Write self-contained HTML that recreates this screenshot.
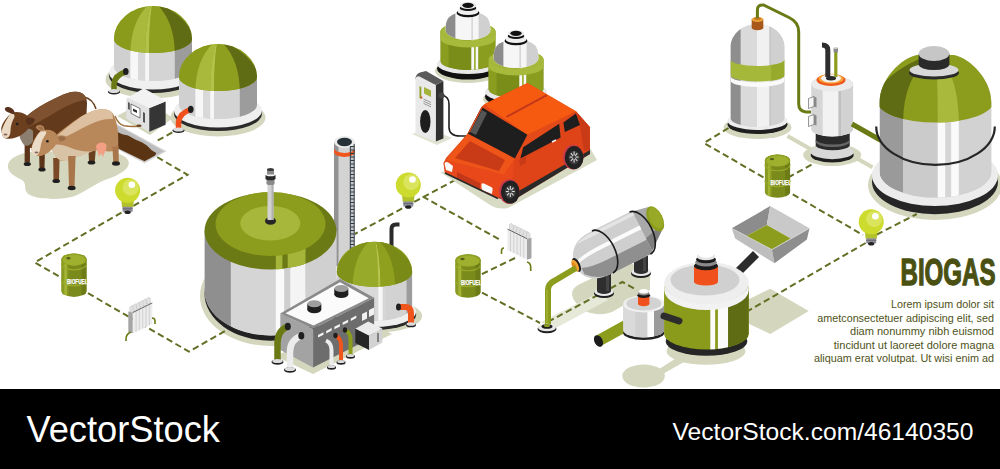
<!DOCTYPE html>
<html><head><meta charset="utf-8"><title>Biogas</title>
<style>
html,body{margin:0;padding:0;background:#ffffff;width:1000px;height:469px;overflow:hidden;}
svg{display:block;position:absolute;left:0;top:0;}
</style></head>
<body>
<svg width="1000" height="469" viewBox="0 0 1000 469">
<defs><clipPath id="c1"><path d="M440.5,31.5 L440.5,61.0 A27.5,9.0 0 0 0 495.5,61.0 L495.5,31.5 A27.5,9.0 0 0 0 440.5,31.5 Z"/></clipPath><clipPath id="c2"><path d="M445.5,30 C445.5,15 453.0,12.5 468.0,12.5 C483.0,12.5 490.5,15 490.5,30 A22.5,10 0 0 1 445.5,30 Z"/></clipPath><clipPath id="c3"><path d="M488.5,59.5 L488.5,89.0 A27.5,9.0 0 0 0 543.5,89.0 L543.5,59.5 A27.5,9.0 0 0 0 488.5,59.5 Z"/></clipPath><clipPath id="c4"><path d="M493.5,58 C493.5,43 501.0,40.5 516.0,40.5 C531.0,40.5 538.5,43 538.5,58 A22.5,10 0 0 1 493.5,58 Z"/></clipPath><clipPath id="c5"><path d="M114.0,39.0 L114.0,67.0 A39.0,14.0 0 0 0 192.0,67.0 L192.0,39.0 A39.0,14.0 0 0 0 114.0,39.0 Z"/></clipPath><clipPath id="c6"><path d="M114.0,39.0 A39.0,33.0 0 0 1 192.0,39.0 A39.0,14.0 0 0 1 114.0,39.0 Z"/></clipPath><clipPath id="c7"><path d="M179.0,77.0 L179.0,105.0 A39.0,14.0 0 0 0 257.0,105.0 L257.0,77.0 A39.0,14.0 0 0 0 179.0,77.0 Z"/></clipPath><clipPath id="c8"><path d="M179.0,77.0 A39.0,33.0 0 0 1 257.0,77.0 A39.0,14.0 0 0 1 179.0,77.0 Z"/></clipPath><clipPath id="c9"><path d="M730.5,118 L730.5,47 A27.0,23 0 0 1 784.5,47 L784.5,118 A27.0,9 0 0 1 730.5,118 Z"/></clipPath><clipPath id="c10"><path d="M811.3,84.0 L811.3,129.0 A20.9,7.5 0 0 0 853.1,129.0 L853.1,84.0 A20.9,7.5 0 0 0 811.3,84.0 Z"/></clipPath><clipPath id="c11"><path d="M879.7,172 L879.7,102.0 C879.7,80 900.5,58 917.5,55 L953.5,55 C970.5,58 991.3,80 991.3,102.0 L991.3,172 A55.8,25.6 0 0 1 879.7,172 Z"/></clipPath><clipPath id="c12"><path d="M877.7,40 L993.3,40 L993.3,102.0 A57.8,20.5 0 0 1 877.7,102.0 Z"/></clipPath><clipPath id="c13"><path d="M61.4,259.7 L61.4,290.7 A12.6,6.2 0 0 0 86.6,290.7 L86.6,259.7 A12.6,6.2 0 0 0 61.4,259.7 Z"/></clipPath><clipPath id="c14"><path d="M455.4,260.5 L455.4,291.5 A12.6,6.2 0 0 0 480.6,291.5 L480.6,260.5 A12.6,6.2 0 0 0 455.4,260.5 Z"/></clipPath><clipPath id="c15"><path d="M764.9,160.6 L764.9,191.6 A12.6,6.2 0 0 0 790.1,191.6 L790.1,160.6 A12.6,6.2 0 0 0 764.9,160.6 Z"/></clipPath><clipPath id="c16"><path d="M204.5,231 L204.5,290.5 A66.0,45 0 0 0 336.5,290.5 L336.5,231 Z"/></clipPath><clipPath id="c17"><path d="M204.5,231 A66.0,38.5 0 0 1 336.5,231 A66.0,38.5 0 0 1 204.5,231 Z"/></clipPath><clipPath id="c18"><path d="M336.8,272.0 L336.8,306.0 A37.7,15.0 0 0 0 412.2,306.0 L412.2,272.0 A37.7,15.0 0 0 0 336.8,272.0 Z"/></clipPath><clipPath id="c19"><path d="M336.8,272.0 A37.7,30.3 0 0 1 412.2,272.0 A37.7,15.0 0 0 1 336.8,272.0 Z"/></clipPath><clipPath id="c20"><path d="M623.2,304.0 L623.2,330.0 A20.5,7.5 0 0 0 664.2,330.0 L664.2,304.0 A20.5,7.5 0 0 0 623.2,304.0 Z"/></clipPath><clipPath id="c21"><path d="M664.2,288.0 L664.2,333.5 A42.3,16.0 0 0 0 748.8,333.5 L748.8,288.0 A42.3,16.0 0 0 0 664.2,288.0 Z"/></clipPath></defs>
<rect x="0" y="0" width="1000" height="469" fill="#ffffff"/>
<polygon points="748.2,299.4 770.3,288.8 808.7,310.9 770.3,333.9 748.2,323.4" fill="#d4d7bd" />
<ellipse cx="468.0" cy="71.0" rx="33.0" ry="12.0" fill="#d4d7bd" />
<ellipse cx="516.0" cy="99.0" rx="33.0" ry="12.0" fill="#d4d7bd" />
<ellipse cx="153.0" cy="79.5" rx="47.5" ry="19.0" fill="#d4d7bd" />
<ellipse cx="218.0" cy="117.5" rx="47.5" ry="19.0" fill="#d4d7bd" />
<polygon points="117.0,116.0 146.0,100.0 173.0,118.0 150.0,135.0" fill="#d4d7bd" />
<path d="M8,165 C10,155 30,150 45,152 C60,150 75,155 90,152 C105,149 122,152 128,160 C132,168 120,175 105,180 C95,184 88,190 75,196 C62,200 40,200 30,195 C22,191 28,184 22,180 C14,176 7,172 8,165 Z" fill="#d4d7bd" />
<ellipse cx="757.5" cy="127.5" rx="34.0" ry="11.5" fill="#d4d7bd" />
<ellipse cx="832.2" cy="155.0" rx="29.0" ry="11.0" fill="#d4d7bd" />
<ellipse cx="935.0" cy="185.0" rx="67.0" ry="35.0" fill="#d4d7bd" />
<ellipse cx="270.5" cy="296.0" rx="70.5" ry="50.0" fill="#d4d7bd" />
<ellipse cx="376.5" cy="316.0" rx="45.7" ry="16.5" fill="#d4d7bd" />
<polygon points="275.0,356.0 313.0,374.0 392.0,334.0 360.0,318.0" fill="#d4d7bd" />
<path d="M574,300 Q568,290 580,284 L626,262 L650,270 L650,290 L612,312 Q595,318 580,308 Z" fill="#d4d7bd" />
<ellipse cx="706.0" cy="351.0" rx="39.5" ry="13.8" fill="#d4d7bd" />
<path d="M656,371 L678,357 L684,362 L661,375 Z" fill="#d4d7bd" />
<ellipse cx="643.6" cy="376.0" rx="21.3" ry="11.5" fill="#d4d7bd" />
<path d="M541,322 L600,292 L608,300 L552,330 Z" fill="#e6e8d8" />
<line x1="787.5" y1="136" x2="811.3" y2="149.4" stroke="#d4d7bd" stroke-width="4"/>
<line x1="851.6" y1="155.4" x2="872.5" y2="167.3" stroke="#d4d7bd" stroke-width="4"/>
<polyline points="172.3,132.4 154.8,142.0" fill="none" stroke="#617024" stroke-width="2.0" stroke-dasharray="6.5 3.6" />
<polyline points="157.2,157.2 187.5,174.7 34.7,262.4 189.0,351.6 226.0,330.5" fill="none" stroke="#617024" stroke-width="2.0" stroke-dasharray="6.5 3.6" />
<polyline points="352.0,235.5 455.0,180.0" fill="none" stroke="#617024" stroke-width="2.0" stroke-dasharray="6.5 3.6" />
<polyline points="422.6,196.5 501.5,240.7" fill="none" stroke="#617024" stroke-width="2.0" stroke-dasharray="6.5 3.6" />
<polyline points="515.0,258.0 480.0,275.0" fill="none" stroke="#617024" stroke-width="2.0" stroke-dasharray="6.5 3.6" />
<polyline points="482.0,292.6 540.0,323.0" fill="none" stroke="#617024" stroke-width="2.0" stroke-dasharray="6.5 3.6" />
<polyline points="548.0,321.8 622.4,282.0 637.0,290.0" fill="none" stroke="#617024" stroke-width="2.0" stroke-dasharray="6.5 3.6" />
<polyline points="728.5,128.0 704.0,143.0 863.0,235.0" fill="none" stroke="#617024" stroke-width="2.0" stroke-dasharray="6.5 3.6" />
<polyline points="811.5,164.7 789.0,177.0" fill="none" stroke="#617024" stroke-width="2.0" stroke-dasharray="6.5 3.6" />
<polyline points="876.7,234.6 916.8,214.0" fill="none" stroke="#617024" stroke-width="2.0" stroke-dasharray="6.5 3.6" />
<polyline points="865.6,243.0 748.2,310.9" fill="none" stroke="#617024" stroke-width="2.0" stroke-dasharray="6.5 3.6" />
<ellipse cx="468.0" cy="68.5" rx="31.0" ry="11.0" fill="#111" />
<ellipse cx="468.0" cy="64.0" rx="31.0" ry="10.0" fill="#e8e8e8" />
<path d="M440.5,31.5 L440.5,61.0 A27.5,9.0 0 0 0 495.5,61.0 L495.5,31.5 A27.5,9.0 0 0 0 440.5,31.5 Z" fill="#7d9019" />
<g clip-path="url(#c1)">
<rect x="440.5" y="20.0" width="8.2" height="55.0" fill="#8b9d1e"/>
<rect x="448.8" y="20.0" width="22.6" height="55.0" fill="#7a8d18"/>
<rect x="471.3" y="20.0" width="2.8" height="55.0" fill="#f8f8f8"/>
<rect x="474.1" y="20.0" width="1.6" height="55.0" fill="#a2b536"/>
<rect x="475.7" y="20.0" width="2.8" height="55.0" fill="#f8f8f8"/>
<rect x="478.4" y="20.0" width="17.1" height="55.0" fill="#8b9d1e"/>
</g>
<path d="M440.5,31.5 A27.5,9 0 0 0 495.5,31.5 L495.5,38.5 A27.5,9 0 0 1 440.5,38.5 Z" fill="#a7ba3c"/>
<ellipse cx="468.0" cy="31.5" rx="27.5" ry="9.0" fill="#a7ba3c" />
<path d="M445.5,30 C445.5,15 453.0,12.5 468.0,12.5 C483.0,12.5 490.5,15 490.5,30 A22.5,10 0 0 1 445.5,30 Z" fill="#f4f4f4" />
<g clip-path="url(#c2)">
<rect x="445.5" y="0.0" width="10.1" height="45.0" fill="#8c8c8c"/>
<rect x="455.6" y="0.0" width="15.8" height="45.0" fill="#f6f6f6"/>
<rect x="471.4" y="0.0" width="1.6" height="45.0" fill="#d6d6d6"/>
<rect x="472.9" y="0.0" width="5.6" height="45.0" fill="#f6f6f6"/>
<rect x="478.6" y="0.0" width="11.9" height="45.0" fill="#d0d0d0"/>
</g>
<ellipse cx="468.0" cy="13.0" rx="11.5" ry="4.2" fill="#111" />
<ellipse cx="468.0" cy="11.2" rx="10.5" ry="3.8" fill="#f0f0f0" />
<rect x="460.0" y="4" width="16" height="7" fill="#e6e6e6"/>
<ellipse cx="468.0" cy="8.0" rx="8.3" ry="3.0" fill="#111" />
<ellipse cx="468.0" cy="5.5" rx="8.1" ry="3.6" fill="#ececec" />
<ellipse cx="468.0" cy="5.3" rx="5.6" ry="2.6" fill="#111" />
<ellipse cx="516.0" cy="96.5" rx="31.0" ry="11.0" fill="#111" />
<ellipse cx="516.0" cy="92.0" rx="31.0" ry="10.0" fill="#e8e8e8" />
<path d="M488.5,59.5 L488.5,89.0 A27.5,9.0 0 0 0 543.5,89.0 L543.5,59.5 A27.5,9.0 0 0 0 488.5,59.5 Z" fill="#7d9019" />
<g clip-path="url(#c3)">
<rect x="488.5" y="48.0" width="8.2" height="55.0" fill="#8b9d1e"/>
<rect x="496.8" y="48.0" width="22.5" height="55.0" fill="#7a8d18"/>
<rect x="519.3" y="48.0" width="2.8" height="55.0" fill="#f8f8f8"/>
<rect x="522.0" y="48.0" width="1.7" height="55.0" fill="#a2b536"/>
<rect x="523.7" y="48.0" width="2.8" height="55.0" fill="#f8f8f8"/>
<rect x="526.5" y="48.0" width="17.0" height="55.0" fill="#8b9d1e"/>
</g>
<path d="M488.5,59.5 A27.5,9 0 0 0 543.5,59.5 L543.5,66.5 A27.5,9 0 0 1 488.5,66.5 Z" fill="#a7ba3c"/>
<ellipse cx="516.0" cy="59.5" rx="27.5" ry="9.0" fill="#a7ba3c" />
<path d="M493.5,58 C493.5,43 501.0,40.5 516.0,40.5 C531.0,40.5 538.5,43 538.5,58 A22.5,10 0 0 1 493.5,58 Z" fill="#f4f4f4" />
<g clip-path="url(#c4)">
<rect x="493.5" y="28.0" width="10.1" height="45.0" fill="#8c8c8c"/>
<rect x="503.6" y="28.0" width="15.8" height="45.0" fill="#f6f6f6"/>
<rect x="519.4" y="28.0" width="1.6" height="45.0" fill="#d6d6d6"/>
<rect x="521.0" y="28.0" width="5.6" height="45.0" fill="#f6f6f6"/>
<rect x="526.6" y="28.0" width="11.9" height="45.0" fill="#d0d0d0"/>
</g>
<ellipse cx="516.0" cy="41.0" rx="11.5" ry="4.2" fill="#111" />
<ellipse cx="516.0" cy="39.2" rx="10.5" ry="3.8" fill="#f0f0f0" />
<rect x="508.0" y="32" width="16" height="7" fill="#e6e6e6"/>
<ellipse cx="516.0" cy="36.0" rx="8.3" ry="3.0" fill="#111" />
<ellipse cx="516.0" cy="33.5" rx="8.1" ry="3.6" fill="#ececec" />
<ellipse cx="516.0" cy="33.3" rx="5.6" ry="2.6" fill="#111" />
<ellipse cx="153.0" cy="76.0" rx="44.0" ry="17.0" fill="#2a2a2a" />
<ellipse cx="153.0" cy="72.5" rx="44.0" ry="17.0" fill="#efefef" />
<path d="M114.0,39.0 L114.0,67.0 A39.0,14.0 0 0 0 192.0,67.0 L192.0,39.0 A39.0,14.0 0 0 0 114.0,39.0 Z" fill="#d6d6d6" />
<g clip-path="url(#c5)">
<rect x="114.0" y="37.0" width="16.4" height="46.0" fill="#d0d0d0"/>
<rect x="130.4" y="37.0" width="7.8" height="46.0" fill="#f7f7f7"/>
<rect x="138.2" y="37.0" width="7.0" height="46.0" fill="#d9d9d9"/>
<rect x="145.2" y="37.0" width="3.9" height="46.0" fill="#f7f7f7"/>
<rect x="149.1" y="37.0" width="25.7" height="46.0" fill="#d4d4d4"/>
<rect x="174.8" y="37.0" width="17.2" height="46.0" fill="#9c9c9c"/>
</g>
<path d="M114.0,39.0 A39.0,33.0 0 0 1 192.0,39.0 A39.0,14.0 0 0 1 114.0,39.0 Z" fill="#8c9c1c" />
<g clip-path="url(#c6)">
<path d="M148.1,3 Q111.2,20.9 112.0,45.0 L130.4,56.4 Q129.9,20.9 150.3,3 Z" fill="#8a9b1b"/>
<path d="M150.3,3 Q129.9,20.9 130.4,56.4 L145.2,58.7 Q145.0,20.9 152.1,3 Z" fill="#a8b93c"/>
<path d="M152.1,3 Q145.0,20.9 145.2,58.7 L149.1,58.9 Q149.0,20.9 152.5,3 Z" fill="#b3c24a"/>
<path d="M152.5,3 Q149.0,20.9 149.1,58.9 L174.8,56.6 Q175.3,20.9 155.6,3 Z" fill="#8e9f1f"/>
<path d="M155.6,3 Q175.3,20.9 174.8,56.6 L193.9,45.0 Q194.8,20.9 157.9,3 Z" fill="#5f6c13"/>
</g>
<path d="M125.5,72 Q115,75 114,84 L114,90" fill="none" stroke="#6b7a14" stroke-width="5.5"/>
<ellipse cx="125.8" cy="71.5" rx="2.8" ry="3.6" fill="#1f1f1f" />
<ellipse cx="114.0" cy="92.0" rx="6.0" ry="2.6" fill="#222" />
<ellipse cx="114.0" cy="91.0" rx="5.2" ry="2.0" fill="#ddd" />
<ellipse cx="218.0" cy="114.0" rx="44.0" ry="17.0" fill="#2a2a2a" />
<ellipse cx="218.0" cy="110.5" rx="44.0" ry="17.0" fill="#efefef" />
<path d="M179.0,77.0 L179.0,105.0 A39.0,14.0 0 0 0 257.0,105.0 L257.0,77.0 A39.0,14.0 0 0 0 179.0,77.0 Z" fill="#d6d6d6" />
<g clip-path="url(#c7)">
<rect x="179.0" y="75.0" width="16.4" height="46.0" fill="#d0d0d0"/>
<rect x="195.4" y="75.0" width="7.8" height="46.0" fill="#f7f7f7"/>
<rect x="203.2" y="75.0" width="7.0" height="46.0" fill="#d9d9d9"/>
<rect x="210.2" y="75.0" width="3.9" height="46.0" fill="#f7f7f7"/>
<rect x="214.1" y="75.0" width="25.7" height="46.0" fill="#d4d4d4"/>
<rect x="239.8" y="75.0" width="17.2" height="46.0" fill="#9c9c9c"/>
</g>
<path d="M179.0,77.0 A39.0,33.0 0 0 1 257.0,77.0 A39.0,14.0 0 0 1 179.0,77.0 Z" fill="#8c9c1c" />
<g clip-path="url(#c8)">
<path d="M213.1,41 Q176.2,58.9 177.1,83.0 L195.4,94.4 Q194.9,58.9 215.3,41 Z" fill="#8a9b1b"/>
<path d="M215.3,41 Q194.9,58.9 195.4,94.4 L210.2,96.7 Q210.0,58.9 217.1,41 Z" fill="#a8b93c"/>
<path d="M217.1,41 Q210.0,58.9 210.2,96.7 L214.1,96.9 Q214.0,58.9 217.5,41 Z" fill="#b3c24a"/>
<path d="M217.5,41 Q214.0,58.9 214.1,96.9 L239.8,94.6 Q240.3,58.9 220.6,41 Z" fill="#8e9f1f"/>
<path d="M220.6,41 Q240.3,58.9 239.8,94.6 L258.9,83.0 Q259.8,58.9 222.9,41 Z" fill="#5f6c13"/>
</g>
<path d="M190.5,109.5 Q180,113 178.5,122 L178.5,128" fill="none" stroke="#f0501c" stroke-width="5.5"/>
<ellipse cx="190.8" cy="109.3" rx="2.8" ry="3.6" fill="#1f1f1f" />
<ellipse cx="178.5" cy="130.5" rx="6.0" ry="2.6" fill="#222" />
<ellipse cx="178.5" cy="129.5" rx="5.2" ry="2.0" fill="#ddd" />
<path d="M126.3,100 Q126.3,98.2 128,97.6 L149.3,108 L149.3,131.8 L126.3,118.4 Z" fill="#e2e2e2" />
<polygon points="149.3,108.0 165.6,101.5 165.6,124.8 149.3,131.8" fill="#353535" />
<path d="M128,97.6 L142,89.2 Q143.6,88.3 145.5,89.2 L163.8,99.6 Q165.6,101 163.6,102.2 L151,107.6 Q149.3,108.3 147.6,107.4 Z" fill="#f2f2f2" />
<polygon points="131.0,104.0 140.0,108.6 140.0,118.0 131.0,113.4" fill="#ffffff" stroke="#444" stroke-width="0.7"/>
<polygon points="133.0,108.5 137.0,110.5 137.0,113.0 133.0,111.0" fill="#2a2a2a" />
<polygon points="128.0,102.0 129.8,103.0 129.8,110.0 128.0,109.0" fill="#555" />
<polygon points="143.0,112.0 145.0,113.0 145.0,123.0 143.0,122.0" fill="#555" />
<polygon points="114.0,122.5 166.5,151.3 144.5,163.3 113.0,147.0" fill="#d4d4d4" />
<polygon points="115.5,124.5 163.8,151.2 144.5,161.6 114.0,146.3" fill="#bcbcbc" />
<polygon points="116.4,131.4 122.3,134.3 128.1,135.5 135.2,139.6 142.2,142.5 146.9,145.5 151.6,150.2 156.3,153.1 155.1,155.4 144.5,161.3 114.0,146.5" fill="#5a3413" />
<path d="M84,97 Q93,99 96,109" fill="none" stroke="#6b4424" stroke-width="1.6" stroke-linecap="butt" stroke-linejoin="round"/>
<path d="M39,146 L45,146 L44.5,168 L39.5,168 Z" fill="#5a3318" />
<path d="M75,130 L81,130 L81,153 L75,153 Z" fill="#4e2c14" />
<ellipse cx="42.0" cy="169.5" rx="3.6" ry="2.1" fill="#1e1e1e" />
<ellipse cx="78.0" cy="154.0" rx="3.6" ry="2.1" fill="#1e1e1e" />
<path d="M25,118 C32,110 45,103 58,97 C66,93 72,91 78,92 C84,93 87,97 87,104 L86,125 C84,135 75,140 62,143 C50,146 38,148 30,148 C24,140 22,128 25,118 Z" fill="#633a1b" />
<path d="M28,116 C36,108 47,102 58,97 C66,93 72,91 78,92 C84,93 86,96 86,100 C76,101 66,106 56,112 C46,118 36,124 30,126 Z" fill="#7e5230" />
<path d="M24.6,140 L30,140 L29.9,162.5 L24.6,162.5 Z" fill="#5c3419" />
<ellipse cx="27.3" cy="164.0" rx="3.6" ry="2.1" fill="#1e1e1e" />
<path d="M19,132 C24,128 30,127 33,131 L33,141 C31,145 27,147 24,145 C21,141 19,137 19,132 Z" fill="#8d7f70" />
<path d="M1.5,131 C0.5,127 3,122 7,117.5 C9.5,114 12.5,112 16.5,112 C22.5,112 28.5,115 30.5,120 C31.5,125 27.5,131 22,134.5 C17.5,137.5 11.5,139.5 6,138.5 C3,138 1.8,134.5 1.5,131 Z" fill="#6c3f1f" />
<path d="M11.5,113.5 C14.5,113.5 15.5,116 13.5,119 C11.5,123 10.5,127 10.5,131 C10.5,135.5 8.5,138.5 5,138 C2.5,137 1.2,134 1.8,130.5 C2.8,126 5.5,121.5 8,117.5 C9,115.5 10,113.5 11.5,113.5 Z" fill="#ead9c3" />
<path d="M5,110 C4,107.5 7,106.5 10,107.5 C13,108.5 15,111 14.5,114 C11,113.8 7,112.5 5,110 Z" fill="#57311a" />
<path d="M26,119 C28,116.8 33,117 35,119.5 C34.2,123 31.2,125.6 28,125 C26,123 25.4,121 26,119 Z" fill="#57311a" />
<ellipse cx="17.2" cy="124.0" rx="1.3" ry="1.2" fill="#1e1e1e" />
<ellipse cx="5.5" cy="134.5" rx="2.0" ry="1.1" fill="#8a6a5a" />
<path d="M115,116 Q118,124 124,125.8 Q131,127 137.5,126.3" fill="none" stroke="#a0703f" stroke-width="1.5" stroke-linecap="butt" stroke-linejoin="round"/>
<ellipse cx="139.0" cy="125.8" rx="2.6" ry="1.2" fill="#6b4424" />
<path d="M53.2,158 L59.6,158 L59,180 L53.5,180 Z" fill="#7a4a26" />
<path d="M88.4,148 L95.9,148 L94.8,161.5 L89,161.5 Z" fill="#6a3f1f" />
<ellipse cx="56.2" cy="181.0" rx="3.8" ry="2.1" fill="#1e1e1e" />
<ellipse cx="91.5" cy="162.5" rx="3.8" ry="2.1" fill="#1e1e1e" />
<path d="M52,140 C56,134 62,130 70,124 C78,118 88,112 99,109.6 C105,108.5 110,110 112.5,113 C116,118 118.5,128 118.3,142 L118,150 C114,152 108,152 102,150 C96,150 92,151.5 86,153 C78,156 70,159 62,161 C56,160 52,152 52,140 Z" fill="#b8875a" />
<path d="M56,137 C62,131 70,125 78,119 C86,113 94,110 99,109.6 C105,108.5 110,110 112.5,113 L113,119 C106,118.5 98,120.5 92,123.5 C82,128 72,134 62.8,138 Z" fill="#dcc09f" />
<path d="M50,146 C56,143 64,145 71,148 C78,151 86,152 92.7,151.2 C86,154 76,157.5 68,160.5 C62,162 55,160 50,146 Z" fill="#d9c3a6" />
<path d="M96,146 C98,142 104,141 106.5,145 C107,149 105,153.5 103,154.5 L99,154.5 C97.5,152 96,149 96,146 Z" fill="#f29f84" />
<path d="M99,153 L99,156.5 M103,153 L103,156.5" fill="none" stroke="#f29f84" stroke-width="1.2"/>
<path d="M68.1,156 L75.6,156 L74.5,186.5 L69,186.5 Z" fill="#a8764a" />
<path d="M112.5,147 L118.6,146 L118.8,162 L113.2,162 Z" fill="#a8764a" />
<ellipse cx="71.6" cy="188.0" rx="4.0" ry="2.2" fill="#1e1e1e" />
<ellipse cx="116.0" cy="163.5" rx="4.0" ry="2.2" fill="#1e1e1e" />
<path d="M31.5,149.5 C31.2,145 34,139 37.5,134.5 C40,131 44,129.5 48,129.7 C53,130 57,133 57.5,137 C58,142 55.5,146 53,148.3 C49.5,152 45,155.5 40,156 C35.5,156.2 32,153.5 31.5,149.5 Z" fill="#b8875a" />
<path d="M43,130.5 C46.5,130.5 47,133 45,135.5 C42.5,139 41,143 40.5,147 C40,151 39,155 36,155.5 C33,155.5 31.5,152.5 31.6,149.5 C32,145 34.5,140 37.5,135 C39,132.5 41,130.5 43,130.5 Z" fill="#ebdcc8" />
<path d="M36,128 C35.5,125.5 39,124.5 42,125.5 C44.5,126.5 45,129.5 44.2,131.6 C41,131.2 37.5,130 36,128 Z" fill="#b8875a" />
<path d="M38,127.8 C38,126.5 40,126.3 42,127 C43,127.8 43,129.3 42.6,130.3 C40.5,129.8 38.8,129 38,127.8 Z" fill="#9a6e48" />
<path d="M57,136 C60,134.5 65,135 67.2,137.5 C66.5,141 63.5,142.8 60,142.5 C58,141 56.5,138.5 57,136 Z" fill="#b8875a" />
<path d="M58.5,136.8 C61,135.8 64.5,136.3 66,138 C65,140.5 62.5,141.5 60,141.2 C58.8,140 58.2,138.2 58.5,136.8 Z" fill="#9a6e48" />
<ellipse cx="47.4" cy="141.2" rx="1.3" ry="1.2" fill="#1e1e1e" />
<ellipse cx="36.5" cy="152.5" rx="2.0" ry="1.1" fill="#8a6a5a" />
<polygon points="412.0,134.0 437.0,145.0 452.0,138.0 428.0,128.0" fill="#e1e3d2" />
<polygon points="435.7,85.0 443.4,81.0 443.4,138.6 435.7,141.5" fill="#303030" />
<path d="M415.5,79 Q415.5,74 420,72.5 L426,71 L443.4,81 L435.7,85 Z" fill="#5a5a5a" />
<path d="M415.5,79 Q416,75.5 419.5,76.5 L435.7,85 L435.7,141.5 L415.5,133.8 Z" fill="#e9e9e9" />
<polygon points="424.0,87.0 431.0,90.5 431.0,97.0 424.0,93.5" fill="#a4b43a" />
<polygon points="419.5,86.0 421.3,87.0 421.3,99.0 419.5,98.0" fill="#8fa024" />
<ellipse cx="421.5" cy="97.5" rx="0.9" ry="0.9" fill="#e04020" />
<line x1="423.5" y1="99.0" x2="431" y2="102.5" stroke="#777" stroke-width="0.7"/>
<line x1="423.5" y1="101.2" x2="431" y2="104.7" stroke="#777" stroke-width="0.7"/>
<line x1="423.5" y1="103.4" x2="431" y2="106.9" stroke="#777" stroke-width="0.7"/>
<ellipse cx="425.3" cy="121.5" rx="5.2" ry="11.5" fill="#1e1e1e" />
<path d="M441,95 Q449,96 449,104 L449,127 Q449,136 460,136 L468,136" fill="none" stroke="#1e1e1e" stroke-width="1.6"/>
<ellipse cx="441.5" cy="95.5" rx="3.0" ry="3.0" fill="#444" />
<path d="M440,172 L490,205 Q498,210 508,208 L597,160 L590,148 L480,170 Z" fill="#d8dbc3" />
<polygon points="443.5,163.0 446.0,158.0 467.7,133.5 481.6,107.0 484.4,104.3 527.4,83.0 575.9,111.3 589.7,127.0 590.0,154.0 512.0,201.0 498.0,198.0 445.0,173.0" fill="#e24a1a" />
<polygon points="514.9,158.4 575.9,111.3 589.7,127.0 590.0,150.0 510.0,196.0 498.0,194.0" fill="#df4419" />
<polygon points="575.9,111.3 589.7,127.0 590.0,150.0 584.0,151.0 580.0,125.0" fill="#c93a17" />
<polygon points="498.0,194.0 510.0,196.0 590.0,150.0 590.0,154.0 512.0,201.0 498.0,198.0" fill="#2a2a2a" />
<polygon points="443.5,163.0 451.0,158.0 503.8,173.7 514.9,158.4 510.0,196.0 498.0,198.0 445.0,173.0" fill="#e8481a" />
<polygon points="446.0,160.0 467.7,133.5 514.9,158.4 503.8,174.5" fill="#ef5419" />
<polygon points="455.0,158.0 470.0,141.0 505.0,160.0 499.0,171.0" fill="#c93a17" />
<polygon points="457.0,172.0 480.0,183.0 480.0,190.0 457.0,179.0" fill="#c4381a" />
<path d="M444.5,163.5 Q446,161 449,163 L453,166 L452,172 L446,170 Z" fill="#fafafa" />
<path d="M481.5,184 Q482,183 484,183.5 L492,187.5 Q493,188.5 492.5,190 L492,194 L483,190.5 Q481,189.5 481.5,187 Z" fill="#fafafa" />
<path d="M445,173 L498,198.5" stroke="#2a2a2a" stroke-width="1.6"/>
<polygon points="484.4,104.3 527.4,83.0 575.9,111.3 527.4,134.8" fill="#f65a10" />
<line x1="506.6" y1="116.8" x2="546.8" y2="95.2" stroke="#c3381a" stroke-width="2"/>
<polygon points="467.7,133.5 481.6,107.0 527.4,134.8 514.9,158.4" fill="#1e1e1e" />
<polygon points="470.0,132.0 482.0,110.0 487.0,113.0 476.0,135.0" fill="#555555" />
<polygon points="467.7,133.5 481.6,107.0 484.4,104.3 470.0,132.0" fill="#e24a1a" />
<polygon points="520.4,158.4 523.2,147.3 559.2,123.8 560.6,137.6" fill="#1e1e1e" />
<polygon points="564.8,132.0 563.4,122.4 575.9,113.5 580.0,125.1" fill="#1e1e1e" />
<line x1="552" y1="142" x2="556" y2="140" stroke="#f3f3f3" stroke-width="1.5"/>
<polygon points="519.0,160.0 526.0,156.0 526.0,163.0 520.0,166.0" fill="#c93a17" />
<ellipse cx="509.3" cy="191.5" rx="10.3" ry="12.3" fill="#c93a4a" />
<ellipse cx="510.3" cy="192.0" rx="9.4" ry="11.6" fill="#222222" />
<ellipse cx="510.3" cy="192.0" rx="5.6" ry="6.8" fill="#3a3a3a" />
<line x1="511.8" y1="191.5" x2="514.8" y2="191.5" stroke="#dcdcdc" stroke-width="1.1"/>
<line x1="511.4" y1="192.8" x2="513.5" y2="195.4" stroke="#dcdcdc" stroke-width="1.1"/>
<line x1="510.3" y1="193.3" x2="510.3" y2="197.0" stroke="#dcdcdc" stroke-width="1.1"/>
<line x1="509.2" y1="192.8" x2="507.1" y2="195.4" stroke="#dcdcdc" stroke-width="1.1"/>
<line x1="508.8" y1="191.5" x2="505.8" y2="191.5" stroke="#dcdcdc" stroke-width="1.1"/>
<line x1="509.2" y1="190.2" x2="507.1" y2="187.6" stroke="#dcdcdc" stroke-width="1.1"/>
<line x1="510.3" y1="189.7" x2="510.3" y2="186.0" stroke="#dcdcdc" stroke-width="1.1"/>
<line x1="511.4" y1="190.2" x2="513.5" y2="187.6" stroke="#dcdcdc" stroke-width="1.1"/>
<ellipse cx="573.1" cy="157.1" rx="10.3" ry="12.3" fill="#c93a4a" />
<ellipse cx="574.1" cy="157.6" rx="9.4" ry="11.6" fill="#222222" />
<ellipse cx="574.1" cy="157.6" rx="5.6" ry="6.8" fill="#3a3a3a" />
<line x1="575.6" y1="157.1" x2="578.6" y2="157.1" stroke="#dcdcdc" stroke-width="1.1"/>
<line x1="575.2" y1="158.4" x2="577.3" y2="161.0" stroke="#dcdcdc" stroke-width="1.1"/>
<line x1="574.1" y1="158.9" x2="574.1" y2="162.6" stroke="#dcdcdc" stroke-width="1.1"/>
<line x1="573.0" y1="158.4" x2="570.9" y2="161.0" stroke="#dcdcdc" stroke-width="1.1"/>
<line x1="572.6" y1="157.1" x2="569.6" y2="157.1" stroke="#dcdcdc" stroke-width="1.1"/>
<line x1="573.0" y1="155.8" x2="570.9" y2="153.2" stroke="#dcdcdc" stroke-width="1.1"/>
<line x1="574.1" y1="155.3" x2="574.1" y2="151.6" stroke="#dcdcdc" stroke-width="1.1"/>
<line x1="575.2" y1="155.8" x2="577.3" y2="153.2" stroke="#dcdcdc" stroke-width="1.1"/>
<ellipse cx="757.5" cy="124.5" rx="30.0" ry="9.5" fill="#1f1f1f" />
<ellipse cx="757.5" cy="121.0" rx="30.0" ry="9.0" fill="#ececec" />
<path d="M730.5,118 L730.5,47 A27.0,23 0 0 1 784.5,47 L784.5,118 A27.0,9 0 0 1 730.5,118 Z" fill="#d8d8d8" />
<g clip-path="url(#c9)">
<rect x="730.5" y="20.0" width="10.3" height="110.0" fill="#8e8e8e"/>
<rect x="740.8" y="20.0" width="16.2" height="110.0" fill="#dadada"/>
<rect x="757.0" y="20.0" width="12.4" height="110.0" fill="#f1f1f1"/>
<rect x="769.4" y="20.0" width="2.2" height="110.0" fill="#c8c8c8"/>
<rect x="771.5" y="20.0" width="13.0" height="110.0" fill="#d0d0d0"/>
</g>
<g clip-path="url(#c9)">
<path d="M730.5,59.5 A27.0,6.5 0 0 0 784.5,59.5 L784.5,75 A27.0,6.5 0 0 1 730.5,75 Z" fill="#a5b83a"/>
<path d="M771.0,65.3 A27.0,6.5 0 0 0 784.5,59.5 L784.5,75 A27.0,6.5 0 0 1 771.0,80.8 Z" fill="#97aa2c"/>
<path d="M730.5,76 A27.0,6.5 0 0 0 784.5,76 L784.5,80.5 A27.0,6.5 0 0 1 730.5,80.5 Z" fill="#fafafa"/>
</g>
<rect x="751.7" y="19" width="11.6" height="9" fill="#a8581a"/>
<ellipse cx="757.5" cy="28.0" rx="5.8" ry="2.2" fill="#a8581a" />
<ellipse cx="757.5" cy="19.5" rx="5.8" ry="2.4" fill="#eba23a" />
<ellipse cx="757.5" cy="18.5" rx="3.5" ry="1.5" fill="#c57a22" />
<path d="M757.4,18 L757.4,10 Q757.4,4.5 763.5,5 L789,17.5 Q798.7,22 798.7,32 L798.7,104 Q798.7,111 806,112 L811,112" fill="none" stroke="#6b7a14" stroke-width="3"/>
<ellipse cx="832.2" cy="155.0" rx="21.5" ry="7.5" fill="#1f1f1f" />
<ellipse cx="832.2" cy="152.0" rx="21.5" ry="7.2" fill="#d8d8d8" />
<path d="M815.7,132 L849.7,132 L849.7,146 A17.5,5.5 0 0 1 815.7,146 Z" fill="#2b2b2b"/>
<path d="M815.7,139 A17,5.5 0 0 0 849.7,139 L849.7,141.5 A17,5.5 0 0 1 815.7,141.5 Z" fill="#666"/>
<path d="M811.3,84.0 L811.3,129.0 A20.9,7.5 0 0 0 853.1,129.0 L853.1,84.0 A20.9,7.5 0 0 0 811.3,84.0 Z" fill="#dcdcdc" />
<g clip-path="url(#c10)">
<rect x="811.3" y="70.0" width="11.5" height="70.0" fill="#d6d6d6"/>
<rect x="822.8" y="70.0" width="15.7" height="70.0" fill="#f2f2f2"/>
<rect x="838.5" y="70.0" width="2.5" height="70.0" fill="#c0c0c0"/>
<rect x="841.0" y="70.0" width="12.1" height="70.0" fill="#d2d2d2"/>
</g>
<ellipse cx="832.2" cy="84.0" rx="20.9" ry="7.5" fill="#ebebeb" />
<ellipse cx="831.0" cy="80.0" rx="14.5" ry="6.0" fill="#f0571a" />
<ellipse cx="831.0" cy="78.8" rx="12.5" ry="5.0" fill="#f6a33a" />
<ellipse cx="831.0" cy="78.3" rx="10.0" ry="4.0" fill="#f3f3f3" />
<ellipse cx="831.0" cy="78.3" rx="5.0" ry="2.2" fill="#2a2a2a" />
<path d="M827.8,77 L827.8,50 Q827.8,45 822,45" fill="none" stroke="#2e2e2e" stroke-width="5"/>
<path d="M835.8,77 L835.8,52" fill="none" stroke="#8c9c1c" stroke-width="3.2"/>
<rect x="833.6" y="48" width="4.4" height="4.5" fill="#8a8a8a"/>
<ellipse cx="835.8" cy="48.0" rx="2.2" ry="1.0" fill="#d0d0d0" />
<polygon points="808.5,98.5 814.0,96.5 814.0,106.5 808.5,108.5" fill="#f5f5f5" stroke="#555" stroke-width="0.6"/>
<polygon points="814.0,96.5 816.5,97.5 816.5,107.5 814.0,106.5" fill="#888" />
<polygon points="808.5,116.5 814.0,114.5 814.0,124.5 808.5,126.5" fill="#f5f5f5" stroke="#555" stroke-width="0.6"/>
<polygon points="814.0,114.5 816.5,115.5 816.5,125.5 814.0,124.5" fill="#888" />
<path d="M852,124 L882,141" fill="none" stroke="#6b7a14" stroke-width="5"/>
<ellipse cx="935.0" cy="182.0" rx="63.0" ry="32.2" fill="#262626" />
<ellipse cx="935.0" cy="175.5" rx="63.0" ry="30.5" fill="#ececec" />
<path d="M879.7,172 L879.7,102.0 C879.7,80 900.5,58 917.5,55 L953.5,55 C970.5,58 991.3,80 991.3,102.0 L991.3,172 A55.8,25.6 0 0 1 879.7,172 Z" fill="#cbcbcb" />
<g clip-path="url(#c11)">
<rect x="879.7" y="95.0" width="23.4" height="110.0" fill="#9a9a9a"/>
<rect x="903.1" y="95.0" width="34.6" height="110.0" fill="#cbcbcb"/>
<rect x="937.7" y="95.0" width="7.8" height="110.0" fill="#fafafa"/>
<rect x="945.5" y="95.0" width="5.6" height="110.0" fill="#d6d6d6"/>
<rect x="951.1" y="95.0" width="7.8" height="110.0" fill="#fafafa"/>
<rect x="958.9" y="95.0" width="32.4" height="110.0" fill="#d2d2d2"/>
</g>
<g clip-path="url(#c11)">
<path d="M877.7,40 L993.3,40 L993.3,102.0 A57.8,20.5 0 0 1 877.7,102.0 Z" fill="#8c9c1c"/>
</g>
<g clip-path="url(#c11)">
<g clip-path="url(#c12)">
<path d="M928.1,55 Q872.9,77.8 874.1,108.0 L903.1,124.7 Q902.5,77.8 931.6,55 Z" fill="#5f6c13"/>
<path d="M935.8,55 Q937.8,77.8 937.7,128.5 L958.9,126.6 Q959.4,77.8 938.3,55 Z" fill="#a8b93c"/>
</g>
</g>
<path d="M876.2,126.5 A59.3,38.5 0 0 0 994.8,126.5" fill="none" stroke="#262626" stroke-width="2.2"/>
<ellipse cx="934.0" cy="73.0" rx="25.0" ry="6.5" fill="#2a2a2a" />
<ellipse cx="934.0" cy="70.0" rx="24.5" ry="6.5" fill="#d8d8d8" />
<rect x="918.7" y="53.5" width="30.7" height="11" fill="#2a2a2a"/>
<ellipse cx="934.0" cy="64.5" rx="15.3" ry="5.5" fill="#2a2a2a" />
<ellipse cx="934.0" cy="53.5" rx="15.3" ry="7.5" fill="#c6c6c6" />
<path d="M121.1,198.3 L134.1,198.3 L133.1,207.3 L122.1,207.3 Z" fill="#b3c12a" />
<circle cx="127.6" cy="190.3" r="12.5" fill="#cdda2e"/>
<circle cx="130.6" cy="187.5" r="8.0" fill="#dae55d"/>
<circle cx="131.79999999999998" cy="184.8" r="3.3" fill="#ffffff"/>
<rect x="122.6" y="206.8" width="10" height="5" fill="#8e8e9a"/>
<rect x="122.6" y="208.3" width="10" height="1" fill="#6a6a75"/>
<ellipse cx="127.6" cy="212.3" rx="3.2" ry="1.8" fill="#222" />
<path d="M401.8,193 L414.8,193 L413.8,202 L402.8,202 Z" fill="#b3c12a" />
<circle cx="408.3" cy="185" r="12.5" fill="#cdda2e"/>
<circle cx="411.3" cy="182.2" r="8.0" fill="#dae55d"/>
<circle cx="412.5" cy="179.5" r="3.3" fill="#ffffff"/>
<rect x="403.3" y="201.5" width="10" height="5" fill="#8e8e9a"/>
<rect x="403.3" y="203" width="10" height="1" fill="#6a6a75"/>
<ellipse cx="408.3" cy="207.0" rx="3.2" ry="1.8" fill="#222" />
<path d="M864.7,229.8 L877.7,229.8 L876.7,238.8 L865.7,238.8 Z" fill="#b3c12a" />
<circle cx="871.2" cy="221.8" r="12.5" fill="#cdda2e"/>
<circle cx="874.2" cy="219.0" r="8.0" fill="#dae55d"/>
<circle cx="875.4000000000001" cy="216.3" r="3.3" fill="#ffffff"/>
<rect x="866.2" y="238.3" width="10" height="5" fill="#8e8e9a"/>
<rect x="866.2" y="239.8" width="10" height="1" fill="#6a6a75"/>
<ellipse cx="871.2" cy="243.8" rx="3.2" ry="1.8" fill="#222" />
<path d="M61.4,259.7 L61.4,290.7 A12.6,6.2 0 0 0 86.6,290.7 L86.6,259.7 A12.6,6.2 0 0 0 61.4,259.7 Z" fill="#7b8b1b" />
<g clip-path="url(#c13)">
<rect x="61.4" y="252.7" width="2.8" height="46.0" fill="#8a9b22"/>
<rect x="64.2" y="252.7" width="2.9" height="46.0" fill="#a3b434"/>
<rect x="67.1" y="252.7" width="1.3" height="46.0" fill="#8a9b22"/>
<rect x="81.6" y="252.7" width="5.0" height="46.0" fill="#6d7c17"/>
</g>
<path d="M61.4,263.7 A12.6,6.2 0 0 0 86.6,263.7" fill="none" stroke="#9aab2c" stroke-width="1.1"/>
<path d="M61.4,279.7 A12.6,6.2 0 0 0 86.6,279.7" fill="none" stroke="#9aab2c" stroke-width="1.1"/>
<ellipse cx="74.0" cy="259.7" rx="12.6" ry="6.2" fill="#8e9f22" />
<ellipse cx="74.0" cy="260.1" rx="11.4" ry="5.3" fill="#9fb02e" />
<ellipse cx="68.5" cy="258.2" rx="2.2" ry="1.2" fill="#55621a" />
<g clip-path="url(#c13)"><text x="67" y="284.0" font-family="Liberation Sans" font-weight="bold" font-size="6.6" fill="#ffffff" stroke="#ffffff" stroke-width="0.25" textLength="20.5" lengthAdjust="spacingAndGlyphs">BIOFUEL</text></g>
<path d="M455.4,260.5 L455.4,291.5 A12.6,6.2 0 0 0 480.6,291.5 L480.6,260.5 A12.6,6.2 0 0 0 455.4,260.5 Z" fill="#7b8b1b" />
<g clip-path="url(#c14)">
<rect x="455.4" y="253.5" width="2.8" height="46.0" fill="#8a9b22"/>
<rect x="458.2" y="253.5" width="2.9" height="46.0" fill="#a3b434"/>
<rect x="461.1" y="253.5" width="1.3" height="46.0" fill="#8a9b22"/>
<rect x="475.6" y="253.5" width="5.0" height="46.0" fill="#6d7c17"/>
</g>
<path d="M455.4,264.5 A12.6,6.2 0 0 0 480.6,264.5" fill="none" stroke="#9aab2c" stroke-width="1.1"/>
<path d="M455.4,280.5 A12.6,6.2 0 0 0 480.6,280.5" fill="none" stroke="#9aab2c" stroke-width="1.1"/>
<ellipse cx="468.0" cy="260.5" rx="12.6" ry="6.2" fill="#8e9f22" />
<ellipse cx="468.0" cy="260.9" rx="11.4" ry="5.3" fill="#9fb02e" />
<ellipse cx="462.5" cy="259.0" rx="2.2" ry="1.2" fill="#55621a" />
<g clip-path="url(#c14)"><text x="461" y="284.8" font-family="Liberation Sans" font-weight="bold" font-size="6.6" fill="#ffffff" stroke="#ffffff" stroke-width="0.25" textLength="20.5" lengthAdjust="spacingAndGlyphs">BIOFUEL</text></g>
<path d="M764.9,160.6 L764.9,191.6 A12.6,6.2 0 0 0 790.1,191.6 L790.1,160.6 A12.6,6.2 0 0 0 764.9,160.6 Z" fill="#7b8b1b" />
<g clip-path="url(#c15)">
<rect x="764.9" y="153.6" width="2.8" height="46.0" fill="#8a9b22"/>
<rect x="767.7" y="153.6" width="2.9" height="46.0" fill="#a3b434"/>
<rect x="770.6" y="153.6" width="1.3" height="46.0" fill="#8a9b22"/>
<rect x="785.1" y="153.6" width="5.0" height="46.0" fill="#6d7c17"/>
</g>
<path d="M764.9,164.6 A12.6,6.2 0 0 0 790.1,164.6" fill="none" stroke="#9aab2c" stroke-width="1.1"/>
<path d="M764.9,180.6 A12.6,6.2 0 0 0 790.1,180.6" fill="none" stroke="#9aab2c" stroke-width="1.1"/>
<ellipse cx="777.5" cy="160.6" rx="12.6" ry="6.2" fill="#8e9f22" />
<ellipse cx="777.5" cy="161.0" rx="11.4" ry="5.3" fill="#9fb02e" />
<ellipse cx="772.0" cy="159.1" rx="2.2" ry="1.2" fill="#55621a" />
<g clip-path="url(#c15)"><text x="770.5" y="184.9" font-family="Liberation Sans" font-weight="bold" font-size="6.6" fill="#ffffff" stroke="#ffffff" stroke-width="0.25" textLength="20.5" lengthAdjust="spacingAndGlyphs">BIOFUEL</text></g>
<g transform="translate(132.8,312.5)">
<polygon points="-4.5,-1.0 0.0,0.0 0.0,21.0 -4.5,19.5" fill="#a5a5a5" />
<polygon points="0.0,0.0 19.5,-9.6 19.5,11.2 0.0,21.0" fill="#ececec" />
<line x1="3.3" y1="-0.6" x2="3.3" y2="19.4" stroke="#c9c9c9" stroke-width="0.8"/>
<line x1="6.6" y1="-2.2" x2="6.6" y2="17.7" stroke="#c9c9c9" stroke-width="0.8"/>
<line x1="9.9" y1="-3.9" x2="9.9" y2="16.1" stroke="#c9c9c9" stroke-width="0.8"/>
<line x1="13.2" y1="-5.5" x2="13.2" y2="14.4" stroke="#c9c9c9" stroke-width="0.8"/>
<line x1="16.5" y1="-7.1" x2="16.5" y2="12.8" stroke="#c9c9c9" stroke-width="0.8"/>
<path d="M-3.0,-1.1 L-3.0,-5.1 Q-1.0,-8.6 1.0,-6.1 L1.0,-0.1 Z" fill="#e2e2e2" stroke="#bdbdbd" stroke-width="0.5"/>
<path d="M0.3,-2.7 L0.3,-6.7 Q2.3,-10.2 4.3,-7.7 L4.3,-1.7 Z" fill="#e2e2e2" stroke="#bdbdbd" stroke-width="0.5"/>
<path d="M3.6,-4.3 L3.6,-8.3 Q5.6,-11.8 7.6,-9.3 L7.6,-3.3 Z" fill="#e2e2e2" stroke="#bdbdbd" stroke-width="0.5"/>
<path d="M6.9,-5.9 L6.9,-9.9 Q8.9,-13.4 10.9,-10.9 L10.9,-4.9 Z" fill="#e2e2e2" stroke="#bdbdbd" stroke-width="0.5"/>
<path d="M10.2,-7.6 L10.2,-11.6 Q12.2,-15.1 14.2,-12.6 L14.2,-6.6 Z" fill="#e2e2e2" stroke="#bdbdbd" stroke-width="0.5"/>
<path d="M13.5,-9.2 L13.5,-13.2 Q15.5,-16.7 17.5,-14.2 L17.5,-8.2 Z" fill="#e2e2e2" stroke="#bdbdbd" stroke-width="0.5"/>
<line x1="0" y1="0" x2="19.5" y2="-9.6" stroke="#444" stroke-width="0.8"/>
</g>
<path d="M131,332 Q126,334 126,339 L126,341" fill="none" stroke="#6b7a14" stroke-width="1.6"/>
<path d="M152,318 Q155,318 155,321 L155,324" fill="none" stroke="#6b7a14" stroke-width="1.6"/>
<g transform="translate(527,238.7) scale(-1,1)">
<polygon points="-4.5,-1.0 0.0,0.0 0.0,21.0 -4.5,19.5" fill="#a5a5a5" />
<polygon points="0.0,0.0 19.5,-9.6 19.5,11.2 0.0,21.0" fill="#ececec" />
<line x1="3.3" y1="-0.6" x2="3.3" y2="19.4" stroke="#c9c9c9" stroke-width="0.8"/>
<line x1="6.6" y1="-2.2" x2="6.6" y2="17.7" stroke="#c9c9c9" stroke-width="0.8"/>
<line x1="9.9" y1="-3.9" x2="9.9" y2="16.1" stroke="#c9c9c9" stroke-width="0.8"/>
<line x1="13.2" y1="-5.5" x2="13.2" y2="14.4" stroke="#c9c9c9" stroke-width="0.8"/>
<line x1="16.5" y1="-7.1" x2="16.5" y2="12.8" stroke="#c9c9c9" stroke-width="0.8"/>
<path d="M-3.0,-1.1 L-3.0,-5.1 Q-1.0,-8.6 1.0,-6.1 L1.0,-0.1 Z" fill="#e2e2e2" stroke="#bdbdbd" stroke-width="0.5"/>
<path d="M0.3,-2.7 L0.3,-6.7 Q2.3,-10.2 4.3,-7.7 L4.3,-1.7 Z" fill="#e2e2e2" stroke="#bdbdbd" stroke-width="0.5"/>
<path d="M3.6,-4.3 L3.6,-8.3 Q5.6,-11.8 7.6,-9.3 L7.6,-3.3 Z" fill="#e2e2e2" stroke="#bdbdbd" stroke-width="0.5"/>
<path d="M6.9,-5.9 L6.9,-9.9 Q8.9,-13.4 10.9,-10.9 L10.9,-4.9 Z" fill="#e2e2e2" stroke="#bdbdbd" stroke-width="0.5"/>
<path d="M10.2,-7.6 L10.2,-11.6 Q12.2,-15.1 14.2,-12.6 L14.2,-6.6 Z" fill="#e2e2e2" stroke="#bdbdbd" stroke-width="0.5"/>
<path d="M13.5,-9.2 L13.5,-13.2 Q15.5,-16.7 17.5,-14.2 L17.5,-8.2 Z" fill="#e2e2e2" stroke="#bdbdbd" stroke-width="0.5"/>
<line x1="0" y1="0" x2="19.5" y2="-9.6" stroke="#444" stroke-width="0.8"/>
</g>
<path d="M504,248 Q501.5,248 501.5,251 L501.5,254" fill="none" stroke="#6b7a14" stroke-width="1.6"/>
<path d="M527,262 Q530.7,263 530.7,267 L530.7,271" fill="none" stroke="#6b7a14" stroke-width="1.6"/>
<rect x="334.0" y="142" width="21.0" height="124" fill="#d3d3d3"/>
<rect x="334.0" y="142" width="4.5" height="124" fill="#929292"/>
<rect x="349.0" y="142" width="6" height="124" fill="#c6c6c6"/>
<path d="M334.0,148 A10.5,5 0 0 0 355.0,148 L355.0,152 A10.5,5 0 0 1 334.0,152 Z" fill="#f0561c"/>
<ellipse cx="344.5" cy="142.0" rx="10.5" ry="6.0" fill="#ececec" />
<ellipse cx="344.5" cy="142.0" rx="7.5" ry="4.2" fill="#263238" />
<line x1="354.2" y1="144" x2="354.2" y2="262" stroke="#2e3a44" stroke-width="0.9"/>
<line x1="350.4" y1="146" x2="350.4" y2="262" stroke="#2e3a44" stroke-width="0.9"/>
<line x1="352.3" y1="146" x2="352.3" y2="262" stroke="#2e3a44" stroke-width="3.8" stroke-dasharray="0.9 2.6"/>
<ellipse cx="270.5" cy="293.5" rx="66.0" ry="47.2" fill="#222222" />
<path d="M204.5,231 L204.5,290.5 A66.0,45 0 0 0 336.5,290.5 L336.5,231 Z" fill="#d6d6d6" />
<g clip-path="url(#c16)">
<rect x="204.5" y="226.0" width="26.4" height="114.5" fill="#8f8f8f"/>
<rect x="230.9" y="226.0" width="44.9" height="114.5" fill="#d5d5d5"/>
<rect x="275.8" y="226.0" width="8.6" height="114.5" fill="#fafafa"/>
<rect x="284.4" y="226.0" width="5.9" height="114.5" fill="#cfcfcf"/>
<rect x="290.3" y="226.0" width="15.2" height="114.5" fill="#f4f4f4"/>
<rect x="305.5" y="226.0" width="31.0" height="114.5" fill="#d0d0d0"/>
</g>
<path d="M204.5,231 A66.0,38.5 0 0 1 336.5,231 A66.0,38.5 0 0 1 204.5,231 Z" fill="#6b7a14" />
<g clip-path="url(#c17)">
<rect x="275.8" y="240.0" width="6.6" height="35.0" fill="#a5b53a"/>
<rect x="287.7" y="240.0" width="17.8" height="35.0" fill="#a5b53a"/>
</g>
<ellipse cx="270.5" cy="224.0" rx="55.0" ry="32.0" fill="#8c9c1c" />
<ellipse cx="270.3" cy="223.3" rx="30.0" ry="17.3" fill="#a7b73b" />
<ellipse cx="270.5" cy="221.0" rx="5.5" ry="3.8" fill="#262626" />
<rect x="267.5" y="181" width="6" height="39" fill="#d2d2d2"/>
<rect x="271.5" y="181" width="2" height="39" fill="#b0b0b0"/>
<rect x="266.5" y="177" width="8" height="6.5" fill="#8a8a8a"/>
<ellipse cx="270.5" cy="183.5" rx="4.0" ry="1.5" fill="#8a8a8a" />
<rect x="265.5" y="175" width="10" height="3.5" fill="#2a2a2a"/>
<ellipse cx="270.5" cy="178.5" rx="5.0" ry="1.8" fill="#2a2a2a" />
<ellipse cx="270.5" cy="174.5" rx="5.0" ry="1.8" fill="#f2f2f2" />
<rect x="267" y="169" width="7" height="5.5" fill="#8a8a8a"/>
<ellipse cx="270.5" cy="169.5" rx="3.5" ry="1.6" fill="#3a3a3a" />
<path d="M391.5,250 L391.5,229 Q391.5,224.5 396,224.5 L399.5,224.5" fill="none" stroke="#2b2b2b" stroke-width="4" stroke-linecap="butt" stroke-linejoin="round"/>
<ellipse cx="374.5" cy="314.5" rx="41.7" ry="15.5" fill="#2a2a2a" />
<ellipse cx="374.5" cy="311.5" rx="41.7" ry="15.5" fill="#efefef" />
<path d="M336.8,272.0 L336.8,306.0 A37.7,15.0 0 0 0 412.2,306.0 L412.2,272.0 A37.7,15.0 0 0 0 336.8,272.0 Z" fill="#d6d6d6" />
<g clip-path="url(#c18)">
<rect x="336.8" y="270.0" width="15.1" height="53.0" fill="#cfcfcf"/>
<rect x="351.9" y="270.0" width="26.4" height="53.0" fill="#d9d9d9"/>
<rect x="378.3" y="270.0" width="4.5" height="53.0" fill="#f7f7f7"/>
<rect x="382.8" y="270.0" width="3.0" height="53.0" fill="#d6d6d6"/>
<rect x="385.8" y="270.0" width="20.7" height="53.0" fill="#d2d2d2"/>
<rect x="406.5" y="270.0" width="5.7" height="53.0" fill="#9c9c9c"/>
</g>
<path d="M336.8,272.0 A37.7,30.3 0 0 1 412.2,272.0 A37.7,15.0 0 0 1 336.8,272.0 Z" fill="#8c9c1c" />
<g clip-path="url(#c19)">
<path d="M369.7,238.7 Q334.1,255.3 334.9,278.0 L352.6,290.2 Q352.2,255.3 371.9,238.7 Z" fill="#809219"/>
<path d="M371.9,238.7 Q352.2,255.3 352.6,290.2 L378.3,292.9 Q378.3,255.3 375.0,238.7 Z" fill="#97aa2a"/>
<path d="M375.0,238.7 Q378.3,255.3 378.3,292.9 L380.5,292.8 Q380.7,255.3 375.2,238.7 Z" fill="#b7c650"/>
<path d="M375.2,238.7 Q380.7,255.3 380.5,292.8 L395.2,290.5 Q395.6,255.3 377.0,238.7 Z" fill="#8fa01f"/>
<path d="M377.0,238.7 Q395.6,255.3 395.2,290.5 L414.1,278.0 Q414.9,255.3 379.3,238.7 Z" fill="#7a8a17"/>
</g>
<path d="M399,307 L405,307 Q411,307 411,313 L411,323" fill="none" stroke="#f0561c" stroke-width="6" stroke-linecap="butt" stroke-linejoin="round"/>
<ellipse cx="398.5" cy="307.0" rx="2.5" ry="3.5" fill="#222" />
<ellipse cx="411.0" cy="325.0" rx="5.0" ry="2.3" fill="#222" />
<ellipse cx="411.0" cy="324.0" rx="4.5" ry="1.8" fill="#ddd" />
<polygon points="280.3,313.4 313.1,328.7 313.1,367.4 280.3,350.0" fill="#a3a3a3" />
<polygon points="313.1,328.7 374.1,297.7 374.1,336.4 313.1,367.4" fill="#6d6d6d" />
<polygon points="280.3,313.4 340.0,279.0 374.1,297.7 313.1,328.7" fill="#8a8a8a" />
<polygon points="285.5,313.3 340.0,282.2 368.8,298.2 313.5,325.6" fill="#fbfbfb" />
<rect x="307.3" y="303.7" width="14" height="6" fill="#1f1f1f"/>
<ellipse cx="314.3" cy="309.7" rx="7.0" ry="3.5" fill="#1f1f1f" />
<ellipse cx="314.3" cy="303.7" rx="7.0" ry="3.5" fill="#9e9e9e" />
<rect x="334.3" y="288.5" width="14" height="6" fill="#1f1f1f"/>
<ellipse cx="341.3" cy="294.5" rx="7.0" ry="3.5" fill="#1f1f1f" />
<ellipse cx="341.3" cy="288.5" rx="7.0" ry="3.5" fill="#9e9e9e" />
<polygon points="318.0,335.0 323.5,332.2 323.5,334.7 318.0,337.5" fill="#f5f5f5" />
<polygon points="326.2,330.9 331.7,328.1 331.7,330.6 326.2,333.4" fill="#f5f5f5" />
<polygon points="334.4,326.7 339.9,323.9 339.9,326.4 334.4,329.2" fill="#f5f5f5" />
<polygon points="342.6,322.6 348.1,319.8 348.1,322.2 342.6,325.1" fill="#f5f5f5" />
<polygon points="350.8,318.4 356.3,315.6 356.3,318.1 350.8,320.9" fill="#f5f5f5" />
<polygon points="362.0,314.0 367.0,311.5 367.0,318.5 362.0,321.0" fill="#f2f2f2" />
<polygon points="369.0,310.0 374.0,307.5 374.0,314.5 369.0,317.0" fill="#f2f2f2" />
<polygon points="355.3,328.7 368.2,321.4 382.3,328.5 369.0,335.7" fill="#ececec" />
<polygon points="355.3,328.7 369.0,335.7 369.0,350.0 355.3,343.0" fill="#262626" />
<polygon points="369.0,335.7 382.3,328.5 382.3,342.5 369.0,350.0" fill="#d2d2d2" />
<line x1="378" y1="333" x2="378" y2="342" stroke="#333" stroke-width="1"/>
<path d="M287.5,326.5 Q277.5,331 277.5,343 L277.5,360" fill="none" stroke="#6b7a14" stroke-width="6.5" stroke-linecap="butt" stroke-linejoin="round"/>
<ellipse cx="287.8" cy="326.5" rx="3.0" ry="3.8" fill="#1f1f1f" />
<ellipse cx="277.5" cy="362.0" rx="6.0" ry="2.7" fill="#222" />
<ellipse cx="277.5" cy="361.0" rx="5.2" ry="2.0" fill="#ddd" />
<path d="M301,336 Q290,340 290,352 L290,368" fill="none" stroke="#ececec" stroke-width="6.5" stroke-linecap="butt" stroke-linejoin="round"/>
<ellipse cx="301.3" cy="335.8" rx="3.0" ry="3.8" fill="#1f1f1f" />
<ellipse cx="290.0" cy="370.0" rx="6.0" ry="2.7" fill="#222" />
<ellipse cx="290.0" cy="369.0" rx="5.2" ry="2.0" fill="#ddd" />
<path d="M326,340.5 Q331.5,343 331.5,350 L331.5,366" fill="none" stroke="#ececec" stroke-width="4" stroke-linecap="butt" stroke-linejoin="round"/>
<ellipse cx="331.5" cy="367.5" rx="4.5" ry="2.2" fill="#222" />
<ellipse cx="331.5" cy="366.5" rx="3.8" ry="1.6" fill="#ddd" />
<path d="M335.5,335.5 Q341,338 341,345 L341,361" fill="none" stroke="#f0561c" stroke-width="4" stroke-linecap="butt" stroke-linejoin="round"/>
<ellipse cx="335.5" cy="335.5" rx="2.2" ry="2.8" fill="#1f1f1f" />
<ellipse cx="341.0" cy="362.5" rx="4.5" ry="2.2" fill="#222" />
<ellipse cx="341.0" cy="361.5" rx="3.8" ry="1.6" fill="#ddd" />
<path d="M345,330 Q350.5,332.5 350.5,339 L350.5,355" fill="none" stroke="#8c9c1c" stroke-width="4" stroke-linecap="butt" stroke-linejoin="round"/>
<ellipse cx="345.0" cy="330.0" rx="2.2" ry="2.8" fill="#1f1f1f" />
<ellipse cx="350.5" cy="356.5" rx="4.5" ry="2.2" fill="#222" />
<ellipse cx="350.5" cy="355.5" rx="3.8" ry="1.6" fill="#ddd" />
<ellipse cx="604.0" cy="293.5" rx="10.0" ry="4.5" fill="#1f1f1f" />
<ellipse cx="604.0" cy="292.0" rx="9.5" ry="4.0" fill="#e9e9e9" />
<rect x="597" y="274" width="14" height="17" fill="#2e2e2e"/>
<ellipse cx="604.0" cy="291.0" rx="7.0" ry="3.0" fill="#2e2e2e" />
<rect x="606" y="274" width="3" height="17" fill="#444"/>
<ellipse cx="641.0" cy="273.5" rx="10.0" ry="4.5" fill="#1f1f1f" />
<ellipse cx="641.0" cy="272.0" rx="9.5" ry="4.0" fill="#e9e9e9" />
<rect x="634" y="256" width="14" height="15" fill="#2e2e2e"/>
<ellipse cx="641.0" cy="271.0" rx="7.0" ry="3.0" fill="#2e2e2e" />
<rect x="643" y="256" width="3" height="15" fill="#444"/>
<g transform="translate(575.6,265.4) rotate(-26.6)">
<path d="M72,-23.5 L92,-19.5 L92,8 L72,23.5 Z" fill="#a9a9a9"/>
<path d="M72,8 L92,3 L92,8 L72,23.5 Z" fill="#7d7d7d"/>
<ellipse cx="92" cy="-6" rx="7.5" ry="13.5" fill="#8c9c1c"/>
<ellipse cx="93" cy="-6.5" rx="6" ry="11.5" fill="#98a927"/>
<path d="M8,-17.5 Q14,-23.5 30,-23.5 L75,-23.5 L75,23.5 L30,23.5 Q12,23.5 6,16.5 Q0,11.5 0,0 Q0,-11.5 8,-17.5 Z" fill="#cfcfcf"/>
<path d="M4,12 Q14,23.5 30,23.5 L75,23.5 L75,9 L30,9 Q14,9 4,5 Z" fill="#8f8f8f"/>
<path d="M2,-3 Q12,-7 30,-7 L75,-7 L75,-3 L30,-3 Q12,-3 2,0 Z" fill="#fbfbfb"/>
<path d="M10,-18.5 Q18,-22.0 30,-22.0 L75,-22.0 L75,-18.5 L30,-18.5 Z" fill="#e4e4e4"/>
<path d="M30,-23.5 A12.5,23.5 0 0 1 30,23.5" fill="none" stroke="#1b1b1b" stroke-width="1.6"/>
<path d="M72,-23.5 A12.5,23.5 0 0 1 72,23.5" fill="none" stroke="#1b1b1b" stroke-width="1.6"/>
<ellipse cx="1" cy="0" rx="3.5" ry="7.5" fill="#1b1b1b"/>
<ellipse cx="-0.5" cy="0" rx="3" ry="6.5" fill="#f2a637"/>
<ellipse cx="-1.5" cy="0" rx="1.8" ry="4" fill="#e08a20"/>
</g>
<path d="M548,324 L548,290 Q548,284 554,281 L576,268" fill="none" stroke="#8c9c1c" stroke-width="6"/>
<path d="M547,324 L547,290" fill="none" stroke="#a2b334" stroke-width="1.5"/>
<ellipse cx="547.0" cy="329.0" rx="9.5" ry="4.2" fill="#1f1f1f" />
<ellipse cx="547.0" cy="327.5" rx="9.0" ry="3.8" fill="#e9e9e9" />
<ellipse cx="547.0" cy="326.5" rx="5.5" ry="2.3" fill="#1f1f1f" />
<ellipse cx="547.0" cy="325.5" rx="3.0" ry="1.5" fill="#8c9c1c" />
<polygon points="731.8,228.3 771.9,249.6 774.5,263.3 735.2,238.5" fill="#bebebe" />
<polygon points="771.9,249.6 809.5,228.3 806.9,239.4 774.5,263.3" fill="#8e8e8e" />
<polygon points="731.8,228.3 770.2,206.1 766.8,224.9 746.3,236.0" fill="#8c8c8c" />
<polygon points="770.2,206.1 809.5,228.3 790.7,238.5 766.8,224.9" fill="#c9c9c9" />
<polygon points="746.3,236.0 766.8,224.9 790.7,238.5 771.9,249.6" fill="#8c9c1c" />
<polyline points="731.8,228.3 771.9,249.6 809.5,228.3" fill="none" stroke="#d6d6d6" stroke-width="0.8"/>
<path d="M628,324.5 L599,340.5" fill="none" stroke="#8c9c1c" stroke-width="11.5"/>
<ellipse cx="598.5" cy="341" rx="4" ry="6.2" transform="rotate(-28 598.5 341)" fill="#1b1b1b"/>
<ellipse cx="643.7" cy="333.0" rx="20.5" ry="7.0" fill="#1f1f1f" />
<path d="M623.2,304.0 L623.2,330.0 A20.5,7.5 0 0 0 664.2,330.0 L664.2,304.0 A20.5,7.5 0 0 0 623.2,304.0 Z" fill="#d4d4d4" />
<g clip-path="url(#c20)">
<rect x="623.2" y="295.0" width="12.3" height="50.0" fill="#dadada"/>
<rect x="635.5" y="295.0" width="11.9" height="50.0" fill="#d0d0d0"/>
<rect x="647.4" y="295.0" width="6.6" height="50.0" fill="#fbfbfb"/>
<rect x="654.0" y="295.0" width="10.2" height="50.0" fill="#9a9a9a"/>
</g>
<ellipse cx="643.7" cy="304.0" rx="20.5" ry="8.5" fill="#f0f0f0" />
<ellipse cx="643.7" cy="303.5" rx="17.5" ry="7.0" fill="#d2d2d2" />
<rect x="638.0" y="296" width="11.4" height="8" fill="#f0501c"/>
<ellipse cx="643.7" cy="304.0" rx="5.7" ry="2.2" fill="#f0501c" />
<ellipse cx="643.7" cy="295.5" rx="6.5" ry="2.6" fill="#1b1b1b" />
<ellipse cx="643.7" cy="293.2" rx="5.6" ry="2.3" fill="#8a8a8a" />
<ellipse cx="643.7" cy="291.5" rx="4.8" ry="2.2" fill="#f6f6f6" />
<ellipse cx="643.7" cy="290.5" rx="3.4" ry="1.6" fill="#ffffff" />
<path d="M738,272 L756,254" stroke="#2c2c2c" stroke-width="8.5"/>
<ellipse cx="706.5" cy="341.5" rx="40.8" ry="14.3" fill="#262626" />
<path d="M664.2,288.0 L664.2,333.5 A42.3,16.0 0 0 0 748.8,333.5 L748.8,288.0 A42.3,16.0 0 0 0 664.2,288.0 Z" fill="#8a9a1b" />
<g clip-path="url(#c21)">
<rect x="664.2" y="280.0" width="12.7" height="75.0" fill="#8a9a1b"/>
<rect x="710.3" y="280.0" width="5.1" height="75.0" fill="#fbfbfb"/>
<rect x="715.4" y="280.0" width="2.5" height="75.0" fill="#8a9a1b"/>
<rect x="717.9" y="280.0" width="10.2" height="75.0" fill="#fbfbfb"/>
<rect x="728.1" y="280.0" width="20.7" height="75.0" fill="#5f6c14"/>
</g>
<path d="M664,316 L679,321" stroke="#2c2c2c" stroke-width="7" stroke-linecap="round"/>
<path d="M664.2,283 A42.3,20 0 0 0 748.8,283 L748.8,290 A42.3,20 0 0 1 664.2,290 Z" fill="#f2f2f2"/>
<ellipse cx="706.5" cy="283.0" rx="42.3" ry="21.0" fill="#eeeeee" />
<ellipse cx="705.0" cy="280.0" rx="34.6" ry="15.4" fill="#d0d0d0" />
<rect x="694" y="266" width="24" height="16" fill="#f0501c"/>
<ellipse cx="706.0" cy="282.0" rx="12.0" ry="3.5" fill="#f0501c" />
<ellipse cx="706.0" cy="266.0" rx="12.0" ry="4.2" fill="#1b1b1b" />
<ellipse cx="706.0" cy="262.5" rx="11.0" ry="4.0" fill="#8a8a8a" />
<ellipse cx="706.0" cy="259.5" rx="10.0" ry="3.8" fill="#1b1b1b" />
<ellipse cx="706.0" cy="256.5" rx="9.3" ry="3.8" fill="#e6e6e6" />
<ellipse cx="706.0" cy="254.5" rx="7.5" ry="3.2" fill="#ffffff" />
<text x="900.5" y="284.8" font-family="Liberation Sans" font-weight="bold" font-size="37.5" fill="#4a5012" stroke="#4a5012" stroke-width="1.3" textLength="95" lengthAdjust="spacingAndGlyphs">BIOGAS</text>
<g font-family="Liberation Sans" font-size="11" fill="#4e5318" text-anchor="end">
<text x="994" y="308" textLength="103.1" lengthAdjust="spacingAndGlyphs">Lorem ipsum dolor sit</text>
<text x="994" y="321.5" textLength="176.7" lengthAdjust="spacingAndGlyphs">ametconsectetuer adipiscing elit, sed</text>
<text x="994" y="335" textLength="144" lengthAdjust="spacingAndGlyphs">diam nonummy nibh euismod</text>
<text x="994" y="348.5" textLength="160.2" lengthAdjust="spacingAndGlyphs">tincidunt ut laoreet dolore magna</text>
<text x="994" y="362" textLength="180.1" lengthAdjust="spacingAndGlyphs">aliquam erat volutpat. Ut wisi enim ad</text>
</g>
<rect x="0" y="389" width="1000" height="80" fill="#000000"/>
<text x="26.5" y="442.2" font-family="Liberation Sans" font-size="37.5" fill="#ffffff" textLength="193.5" lengthAdjust="spacingAndGlyphs">VectorStock</text>
<text x="672.5" y="440.3" font-family="Liberation Sans" font-size="24.3" fill="#ffffff" textLength="301" lengthAdjust="spacingAndGlyphs">VectorStock.com/46140350</text>
</svg>
</body></html>
